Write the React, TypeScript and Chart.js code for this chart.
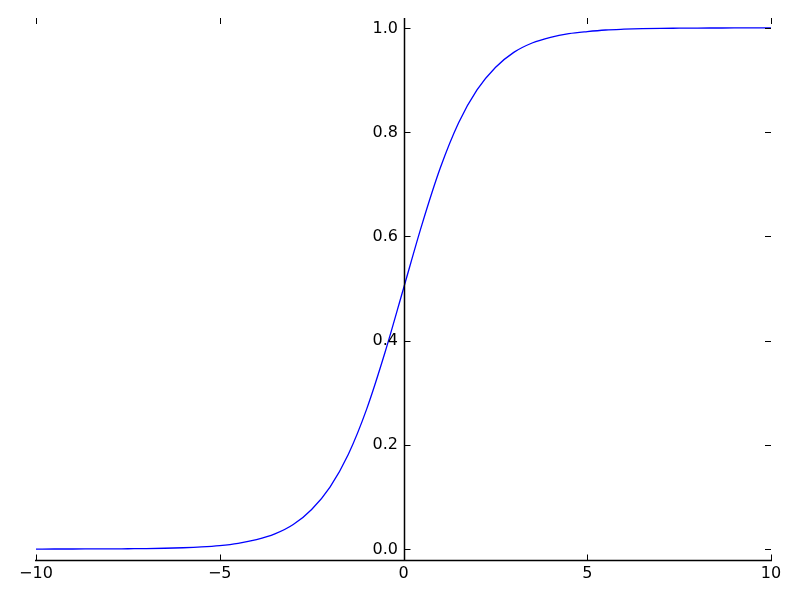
import React, { useEffect, useRef } from "react";
import { Chart, registerables } from "chart.js";

Chart.register(...registerables);

const xValues = [
  -10, -9.5, -9, -8.5, -8, -7.5, -7, -6.5, -6, -5.5, -5, -4.5, -4, -3.5, -3, -2.5, -2, -1.5, -1, -0.5,
  0, 0.5, 1, 1.5, 2, 2.5, 3, 3.5, 4, 4.5, 5, 5.5, 6, 6.5, 7, 7.5, 8, 8.5, 9, 9.5, 10,
];
const yValues = [
  0.0000, 0.0001, 0.0001, 0.0002, 0.0003, 0.0006, 0.0009, 0.0015, 0.0025, 0.0041, 0.0067, 0.011, 0.018,
  0.029, 0.047, 0.076, 0.119, 0.182, 0.269, 0.378, 0.5, 0.622, 0.731, 0.818, 0.881, 0.924, 0.953, 0.971,
  0.982, 0.989, 0.993, 0.996, 0.9975, 0.9985, 0.9991, 0.9994, 0.9997, 0.9998, 0.9999, 0.9999, 1.0,
];
const xTickValues = [-10, -5, 0, 5, 10];
const xTickLabels = ["\u221210", "\u22125", "0", "5", "10"];
const yTickValues = [0, 0.2, 0.4, 0.6, 0.8, 1.0];
const yTickLabels = ["0.0", "0.2", "0.4", "0.6", "0.8", "1.0"];

const FONT = { family: "'DejaVu Sans', sans-serif", size: 16 };

const spinesPlugin = {
  id: "spines",
  afterDraw(chart: any) {
    const { ctx, chartArea, scales } = chart;
    const { left, right, top, bottom } = chartArea;
    const x = scales.x;
    const y = scales.y;
    const x0 = Math.round(x.getPixelForValue(0)) + 0.5;
    const yb = Math.round(bottom) + 0.5;
    ctx.save();
    ctx.strokeStyle = "#000";
    ctx.lineWidth = 1;
    ctx.beginPath();
    for (const v of xTickValues) {
      const px = Math.round(x.getPixelForValue(v)) + 0.5;
      ctx.moveTo(px, yb);
      ctx.lineTo(px, yb - 6);
      ctx.moveTo(px, top);
      ctx.lineTo(px, top + 6);
    }
    for (const v of yTickValues) {
      const py = Math.round(y.getPixelForValue(v)) + 0.5;
      ctx.moveTo(x0, py);
      ctx.lineTo(x0 + 6, py);
      ctx.moveTo(right, py);
      ctx.lineTo(right - 6, py);
    }
    ctx.stroke();
    ctx.lineWidth = 1.5;
    ctx.beginPath();
    ctx.moveTo(left - 1, yb);
    ctx.lineTo(right + 1, yb);
    ctx.moveTo(x0, top);
    ctx.lineTo(x0, yb);
    ctx.stroke();
    // y tick labels beside the centred spine
    ctx.fillStyle = "#000";
    ctx.font = `${FONT.size}px ${FONT.family}`;
    ctx.textAlign = "right";
    ctx.textBaseline = "middle";
    yTickValues.forEach((v, i) => {
      ctx.fillText(yTickLabels[i], x0 - 6.5, y.getPixelForValue(v) + 0.5);
    });
    ctx.restore();
  },
};

export default function App() {
  const ref = useRef<HTMLCanvasElement | null>(null);
  useEffect(() => {
    if (!ref.current) return;
    const chart = new Chart(ref.current, {
      type: "line",
      data: {
        datasets: [
          {
            data: xValues.map((v, i) => ({ x: v, y: yValues[i] })),
            borderColor: "#0000ff",
            borderWidth: 1.3,
            pointRadius: 0,
            fill: false,
            cubicInterpolationMode: "monotone",
          },
        ],
      },
      options: {
        animation: false,
        responsive: false,
        events: [],
        layout: { padding: { left: 36, right: 29, top: 18, bottom: 0 } },
        plugins: { legend: { display: false }, tooltip: { enabled: false } },
        scales: {
          x: {
            type: "linear",
            position: "bottom",
            min: -10,
            max: 10,
            grid: { display: false, drawTicks: false },
            border: { display: false },
            afterBuildTicks: (s: any) => {
              s.ticks = xTickValues.map((v) => ({ value: v }));
            },
            afterFit: (s: any) => {
              s.height = 40;
            },
            ticks: {
              autoSkip: false,
              maxRotation: 0,
              padding: 4,
              color: "#000",
              font: FONT,
              callback: (v: any) => {
                const i = xTickValues.indexOf(Number(v));
                return i >= 0 ? xTickLabels[i] : "";
              },
            },
          },
          y: {
            type: "linear",
            axis: "y",
            position: { x: 0 },
            min: -0.021,
            max: 1.019,
            grid: { display: false, drawTicks: false },
            border: { display: false },
            afterBuildTicks: (s: any) => {
              s.ticks = yTickValues.map((v) => ({ value: v }));
            },
            ticks: { display: false },
          },
        },
      } as any,
      plugins: [spinesPlugin],
    });
    return () => chart.destroy();
  }, []);
  return (
    <div style={{ position: "absolute", left: 0, top: 0, width: 800, height: 600, background: "#fff" }}>
      <canvas ref={ref} width={800} height={600} style={{ display: "block" }} />
    </div>
  );
}
